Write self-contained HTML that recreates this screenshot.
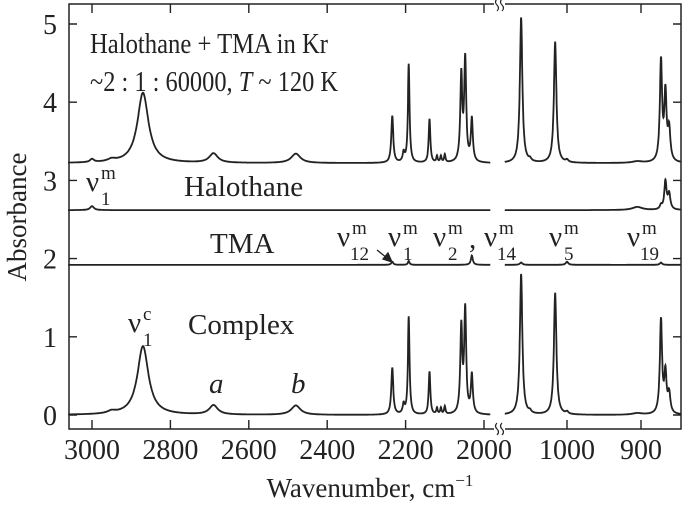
<!DOCTYPE html>
<html><head><meta charset="utf-8"><style>
body{margin:0;background:#fff}
svg{display:block;font-family:"Liberation Serif",serif}
</style></head><body>
<svg id="c" width="685" height="510" viewBox="0 0 685 510" xmlns="http://www.w3.org/2000/svg">
<rect x="69" y="4" width="612" height="425" fill="none" stroke="#222" stroke-width="1.5"/>
<g id="ticks" stroke="#222" stroke-width="1.4"></g>
<g id="labels" font-size="28" fill="#222"></g>
<g id="traces" fill="none" stroke="#222" stroke-width="1.8"></g>
<g fill="none" stroke="#222" stroke-width="1.2">
<rect x="494" y="0" width="11" height="9" fill="#fff" stroke="none"/>
<rect x="494" y="424" width="11" height="10" fill="#fff" stroke="none"/>
<path d="M497,-1 q-3,3 0,6 q3,3 0,6 M502,-1 q-3,3 0,6 q3,3 0,6"/>
<path d="M497,423 q-3,3 0,6 q3,3 0,6 M502,423 q-3,3 0,6 q3,3 0,6"/>
</g>
<text x="370" y="497" font-size="27" text-anchor="middle" fill="#222">Wavenumber, cm<tspan font-size="17" dy="-11">−1</tspan></text>
<text transform="translate(26,217) rotate(-90)" font-size="27" text-anchor="middle" fill="#222">Absorbance</text>
<g fill="#222" font-size="29">
<text x="90" y="53" textLength="238" lengthAdjust="spacingAndGlyphs">Halothane + TMA in Kr</text>
<text x="90" y="91" textLength="248" lengthAdjust="spacingAndGlyphs">~2 : 1 : 60000, <tspan font-style="italic">T</tspan> ~ 120 K</text>
<text x="184" y="196">Halothane</text>
<text x="210" y="253">TMA</text>
<text x="188" y="334">Complex</text>
<text x="209" y="393" font-style="italic">a</text>
<text x="291" y="393" font-style="italic">b</text>
</g>
<g fill="#222">
<text x="86" y="191" font-size="29">ν</text><text x="101" y="179" font-size="19">m</text><text x="101" y="205" font-size="19">1</text>
<text x="128" y="332" font-size="29">ν</text><text x="143" y="320" font-size="19">c</text><text x="143" y="346" font-size="19">1</text>
<text x="337" y="246" font-size="29">ν</text><text x="352" y="234" font-size="19">m</text><text x="350" y="260" font-size="19">12</text>
<text x="388" y="246" font-size="29">ν</text><text x="403" y="234" font-size="19">m</text><text x="403" y="260" font-size="19">1</text>
<text x="433" y="246" font-size="29">ν</text><text x="448" y="234" font-size="19">m</text><text x="448" y="260" font-size="19">2</text><text x="469" y="248" font-size="29">,</text>
<text x="484" y="246" font-size="29">ν</text><text x="499" y="234" font-size="19">m</text><text x="497" y="260" font-size="19">14</text>
<text x="549" y="246" font-size="29">ν</text><text x="564" y="234" font-size="19">m</text><text x="564" y="260" font-size="19">5</text>
<text x="627" y="246" font-size="29">ν</text><text x="642" y="234" font-size="19">m</text><text x="640" y="260" font-size="19">19</text>
</g>
<g stroke="#222" stroke-width="1.3" fill="#222">
<line x1="377" y1="250" x2="387" y2="258"/>
<path d="M392,262 L383,259 L388,253 Z"/>
</g>
</svg>
<script>
const yTicks=[0,1,2,3,4,5];
const xTicksLeft=[3000,2800,2600,2400,2200,2000];
const xTicksRight=[1000,900];
const baselines=[3.22,2.62,1.92,0];
const traceNames=['mixture','halothane','tma','complex'];
const peakPos=[3000,2950,2870,2690,2480,2234,2205,2192,2139,2120,2110,2100,2058,2048,2031,1062,1050,1016,1000,905,873,867,862];
const peakWidth=[6,12,17,13,14,3,3,2.5,2.5,2,2,2,3,3,3,2,2,2,2,8,1.8,1.8,2];
const hMixture=[0.04,0.03,0.9,0.12,0.12,0.6,0.12,1.26,0.56,0.08,0.08,0.1,1.1,1.3,0.55,1.86,0.03,1.55,0.03,0.02,1.28,0.85,0.4];
const hHalothane=[0.05,0,0,0,0,0,0,0,0,0,0,0,0,0,0,0,0,0,0,0.04,0.05,0.36,0.2];
const hTma=[0,0,0,0,0,0.04,0,0.05,0,0,0,0,0,0,0.12,0.03,0,0,0.04,0,0.03,0,0];
const hComplex=[0,0.03,0.88,0.12,0.12,0.6,0.12,1.25,0.55,0.08,0.08,0.1,1.1,1.32,0.5,1.8,0.03,1.56,0.03,0.02,1.2,0.5,0.25];
const heights=[hMixture,hHalothane,hTma,hComplex];
const Y=v=>415-78.2*v;
const XL=w=>405.6+(2200-w)*0.392;
const XR=w=>567+(1000-w)*0.74;
const NS='http://www.w3.org/2000/svg';
function mk(tag,attrs,parent){const e=document.createElementNS(NS,tag);for(const k in attrs)e.setAttribute(k,attrs[k]);parent.appendChild(e);return e;}
const tg=document.getElementById('ticks'),lg=document.getElementById('labels'),trg=document.getElementById('traces');
yTicks.forEach(v=>{
 const y=Y(v);
 const t=mk('path',{d:`M69,${y}h8M681,${y}h-8`},tg);
 
 
 const l=mk('text',{x:57,y:y+10,'text-anchor':'end'},lg);l.textContent=v;
 
 
});
function xt(w,f){
 const x=f(w);
 const t=mk('path',{d:`M${x},429v-9M${x},4v9`},tg);
 
 
 const l=mk('text',{x:x,y:459,'text-anchor':'middle'},lg);l.textContent=w;
 
 
}
xTicksLeft.forEach(w=>xt(w,XL));xTicksRight.forEach(w=>xt(w,XR));
function val(i,w){let s=baselines[i];const h=heights[i];for(let k=0;k<peakPos.length;k++){const g=peakWidth[k];const d=w-peakPos[k];s+=h[k]*g*g/(d*d+g*g);}return s;}
traceNames.forEach((n,i)=>{
 let d='';
 for(let w=3061;w>=1984;w-=0.5){d+=(d?'L':'M')+XL(w).toFixed(1)+','+Y(val(i,w)).toFixed(1);}
 let d2='';
 for(let w=1084;w>=846;w-=0.25){d2+=(d2?'L':'M')+XR(w).toFixed(1)+','+Y(val(i,w)).toFixed(1);}
 const p=mk('path',{d:d+d2},trg);
 
 
});
</script>
</body></html>
